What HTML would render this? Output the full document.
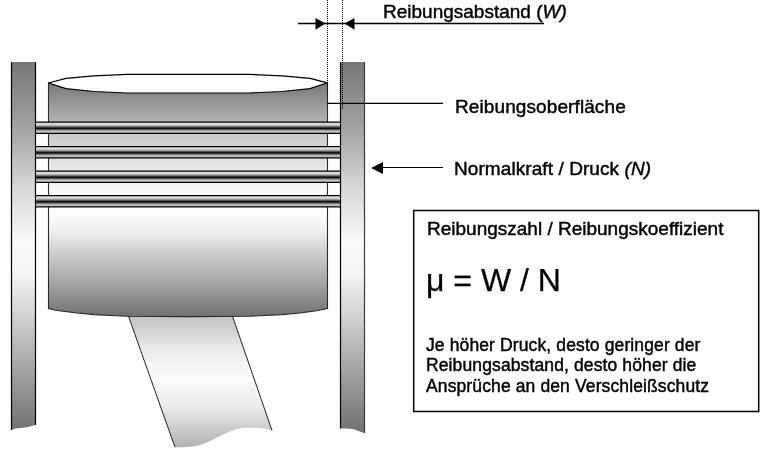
<!DOCTYPE html>
<html><head><meta charset="utf-8">
<style>
html,body{margin:0;padding:0;background:#fff;width:769px;height:464px;overflow:hidden;position:relative}
svg{position:absolute;left:0;top:0}
.t{position:absolute;font-family:"Liberation Sans",sans-serif;color:#000;white-space:nowrap;line-height:1;-webkit-text-stroke:0.45px #000;will-change:transform}
</style></head><body>
<svg width="769" height="464" viewBox="0 0 769 464">
<defs>
<linearGradient id="wall" x1="0" y1="62" x2="0" y2="430" gradientUnits="userSpaceOnUse">
<stop offset="0" stop-color="#767676"/>
<stop offset="0.2" stop-color="#a8a8a8"/>
<stop offset="0.33" stop-color="#d4d4d4"/>
<stop offset="0.49" stop-color="#fafafa"/>
<stop offset="0.58" stop-color="#f3f3f3"/>
<stop offset="1" stop-color="#727272"/>
</linearGradient>
<linearGradient id="body" x1="0" y1="83" x2="0" y2="318" gradientUnits="userSpaceOnUse">
<stop offset="0" stop-color="#787878"/>
<stop offset="0.157" stop-color="#b0b0b0"/>
<stop offset="0.243" stop-color="#d0d0d0"/>
<stop offset="0.45" stop-color="#f8f8f8"/>
<stop offset="0.55" stop-color="#ffffff"/>
<stop offset="0.625" stop-color="#f0f0f0"/>
<stop offset="0.753" stop-color="#c4c4c4"/>
<stop offset="0.881" stop-color="#9a9a9a"/>
<stop offset="1" stop-color="#6e6e6e"/>
</linearGradient>
<linearGradient id="ring" x1="0" y1="0" x2="0" y2="1">
<stop offset="0" stop-color="#222"/>
<stop offset="0.12" stop-color="#e0e0e0"/>
<stop offset="0.28" stop-color="#c8c8c8"/>
<stop offset="0.55" stop-color="#000"/>
<stop offset="0.72" stop-color="#909090"/>
<stop offset="0.85" stop-color="#d4d4d4"/>
<stop offset="1" stop-color="#333"/>
</linearGradient>
<linearGradient id="rod" x1="0" y1="315" x2="0" y2="447" gradientUnits="userSpaceOnUse">
<stop offset="0" stop-color="#c2c2c2"/>
<stop offset="0.28" stop-color="#ebebeb"/>
<stop offset="0.48" stop-color="#fcfcfc"/>
<stop offset="0.7" stop-color="#eaeaea"/>
<stop offset="1" stop-color="#b2b2b2"/>
</linearGradient>
</defs>
<!-- connecting rod -->
<path d="M127,312 L231,312 L272,430.5 C265,428 255,427.5 242,428 C228,430 215,440 200,445 C192,447 184,447.3 175,447.3 Z" fill="url(#rod)"/>
<path d="M127,312 L175,447.3 M231,312 L272,430.5" stroke="#222" stroke-width="1" fill="none"/>
<!-- left wall -->
<path d="M11.5,62 L35.5,62 L35.5,425 C30,426 25,428 20,428 C16,428 13,429 11.5,430 Z" fill="url(#wall)" stroke="none"/>
<path d="M11.5,430 L11.5,62 M35.5,62 L35.5,425" stroke="#000" stroke-width="1.2" fill="none"/>
<!-- right wall -->
<path d="M340.5,62 L364.5,62 L364.5,433 C360,432 357,430 353,429 C348,428.5 344,428.5 340.5,428.5 Z" fill="url(#wall)" stroke="none"/>
<path d="M340.5,428.5 L340.5,62" stroke="#000" stroke-width="1.2" fill="none"/><path d="M364.5,62 L364.5,433" stroke="#3c3c3c" stroke-width="1.2" fill="none"/>
<!-- piston body -->
<path d="M48.5,83 L327.5,83 L327.5,308.5 L315,311 L300,313 L282,314.6 L249,316.2 L188,316.6 L127,316.2 L94,314.6 L77,313 L57,310.5 L48.5,308.5 Z" fill="url(#body)" stroke="#2a2a2a" stroke-width="1.1"/>
<path d="M48.5,83 L66,78.3 L94,75.8 L127,74.3 L249,74.3 L282,75.8 L310,78.3 L327.5,82.8 L310,88.6 L282,91.5 L249,93 L127,93 L94,91.5 L66,88.6 Z" fill="#fff" stroke="#000" stroke-width="1.2" stroke-linejoin="round"/>
<!-- rings -->
<g stroke="#000" stroke-width="1">
<rect x="35.5" y="122" width="305" height="11.5" fill="url(#ring)"/>
<rect x="35.5" y="146.5" width="305" height="11.5" fill="url(#ring)"/>
<rect x="35.5" y="171" width="305" height="11.5" fill="url(#ring)"/>
<rect x="35.5" y="195.5" width="305" height="11.5" fill="url(#ring)"/>
</g>
<!-- dotted lines -->
<line x1="327.5" y1="0" x2="327.5" y2="95" stroke="#000" stroke-width="1" stroke-dasharray="1 1"/>
<line x1="342.5" y1="0" x2="342.5" y2="109" stroke="#000" stroke-width="1" stroke-dasharray="1 1"/>
<!-- top dimension arrows -->
<line x1="298" y1="23.4" x2="544" y2="23.4" stroke="#000" stroke-width="1.5"/>
<path d="M315.5,18 L325.5,23.5 L315.5,29.8 Z" fill="#000"/>
<path d="M354.5,18 L344.5,23.5 L354.5,29.8 Z" fill="#000"/>
<!-- reibungsoberflaeche line -->
<line x1="327" y1="103.4" x2="443" y2="103.4" stroke="#000" stroke-width="1.2"/>
<!-- normalkraft arrow -->
<line x1="380" y1="167.5" x2="443" y2="167.5" stroke="#000" stroke-width="1.2"/>
<path d="M383,162 L371,168 L383,174 Z" fill="#000"/>
<!-- box -->
<rect x="413.7" y="210.5" width="345" height="201" fill="#fff" stroke="#000" stroke-width="1.5"/>
</svg>
<div class="t" style="left:383px;top:2px;font-size:19px">Reibungsabstand (<i>W)</i></div>
<div class="t" style="left:455px;top:96.5px;font-size:19px;letter-spacing:0.1px">Reibungsoberfläche</div>
<div class="t" style="left:454px;top:159.3px;font-size:19px;letter-spacing:0.08px">Normalkraft / Druck <i>(N)</i></div>
<div class="t" style="left:427px;top:219px;font-size:19px">Reibungszahl / Reibungskoeffizient</div>
<div class="t" style="left:426px;top:264px;font-size:32px;-webkit-text-stroke:0.25px #000">μ = W / N</div>
<div class="t" style="left:426px;top:335px;font-size:17.5px;line-height:20.4px;letter-spacing:0.12px">Je höher Druck, desto geringer der<br>Reibungsabstand, desto höher die<br>Ansprüche an den Verschleißschutz</div>
</body></html>
